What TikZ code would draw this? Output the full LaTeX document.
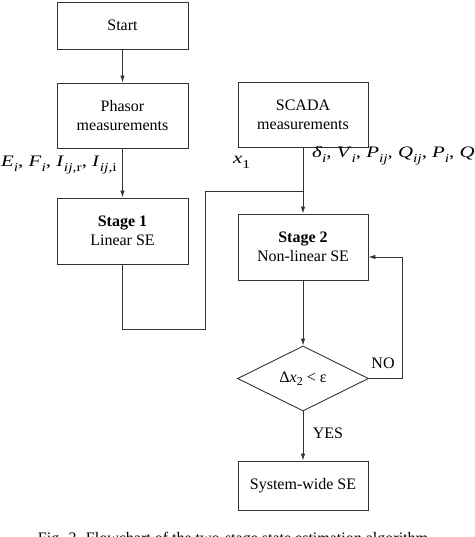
\documentclass[tikz,border=0pt]{standalone}
\usepackage{fontspec}
\setmainfont{Liberation Serif}
\usetikzlibrary{arrows.meta,shapes.geometric}
\newcommand{\vi}[1]{\textit{#1}}
\newcommand{\sbs}[1]{\raisebox{-0.3em}{\fontsize{12}{12}\selectfont #1}}
\newcommand{\wide}[1]{\scalebox{1.3}[1]{#1}}
\begin{document}
\begin{tikzpicture}[x=1pt,y=-1pt,
  txt/.style={font=\fontsize{16}{19}\selectfont},
  box/.style={draw=black!80, line width=0.9pt, minimum width=131pt, align=center, inner sep=0pt, txt},
  conn/.style={draw=black!80, line width=0.9pt},
  arr/.style={conn, -{Latex[length=7pt,width=4.5pt]}},
  lbl/.style={txt, inner sep=0pt}]
\useasboundingbox (0,0) rectangle (474,537);
\clip (0,0) rectangle (474,537);
\node[box, minimum height=47pt] (start) at (122.5,25.5) {Start};
\node[box, minimum height=65pt] (phasor) at (122.5,115.5) {Phasor\\measurements};
\node[box, minimum height=65pt, minimum width=130pt] (scada) at (303,114.5) {SCADA\\measurements};
\node[box, minimum height=66pt] (stage1) at (122.5,231) {\textbf{Stage 1}\\Linear SE};
\node[box, minimum height=66pt, minimum width=130pt] (stage2) at (303,247) {\textbf{Stage 2}\\Non-linear SE};
\node[box, shape=diamond, minimum width=131pt, minimum height=65pt] (dia) at (303,378.5) {Δ\vi{x}{\fontsize{12}{12}\selectfont\raisebox{-0.25em}{2}} < ε};
\node[box, minimum height=49pt, minimum width=130pt] (sys) at (303,485.5) {System-wide SE};

\coordinate (j) at (303,191);
\coordinate (c1) at (205,329);
\coordinate (c2) at (205,191);
\coordinate (nofb) at (402,257);

\draw[arr] (start) -- (phasor);
\draw[arr] (phasor) -- (stage1);
\draw[arr] (scada) -- (stage2);
\draw[conn] (stage1.south) |- (c1) -- (c2) -- (j);
\draw[arr] (stage2) -- (dia);
\draw[arr] (dia) -- (sys);
\draw[arr] (dia.east) -| (nofb) -- (stage2.east |- nofb);

\node[lbl] (no) at (383,363) {NO};
\node[lbl] (yes) at (328,433) {YES};
\node[lbl, anchor=base west] (x1) at (233,164) {\wide{\vi{x}\sbs{1}}};
\node[lbl, anchor=base west] (lft) at (1,167) {\wide{\vi{E}\sbs{\vi{i}}, \vi{F}\sbs{\vi{i}}, \vi{I}\sbs{\vi{ij},r}, \vi{I}\sbs{\vi{ij},i}}};
\node[lbl, anchor=base west] (rgt) at (312,158) {\wide{\vi{δ}\sbs{\vi{i}}, \vi{V}\sbs{\vi{i}}, \vi{P}\sbs{\vi{ij}}, \vi{Q}\sbs{\vi{ij}}, \vi{P}\sbs{\vi{i}}, \vi{Q}\sbs{\vi{i}}}};
\node[lbl, anchor=base] (cap) at (233,543) {Fig. 3. Flowchart of the two-stage state estimation algorithm};
\end{tikzpicture}
\end{document}
